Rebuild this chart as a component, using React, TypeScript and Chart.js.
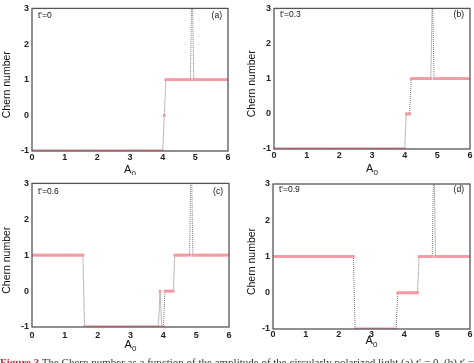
import React, { useEffect, useRef } from "react";
import { Chart, registerables } from "chart.js";

Chart.register(...registerables);

// A0 sampling grid
const A0 = [
  0, 0.05, 0.1, 0.15, 0.2, 0.25, 0.3, 0.35, 0.4, 0.45,
  0.5, 0.55, 0.6, 0.65, 0.7, 0.75, 0.8, 0.85, 0.9, 0.95,
  1, 1.05, 1.1, 1.15, 1.2, 1.25, 1.3, 1.35, 1.4, 1.45,
  1.5, 1.55, 1.6, 1.65, 1.7, 1.75, 1.8, 1.85, 1.9, 1.95,
  2, 2.05, 2.1, 2.15, 2.2, 2.25, 2.3, 2.35, 2.4, 2.45,
  2.5, 2.55, 2.6, 2.65, 2.7, 2.75, 2.8, 2.85, 2.9, 2.95,
  3, 3.05, 3.1, 3.15, 3.2, 3.25, 3.3, 3.35, 3.4, 3.45,
  3.5, 3.55, 3.6, 3.65, 3.7, 3.75, 3.8, 3.85, 3.9, 3.95,
  4, 4.05, 4.1, 4.15, 4.2, 4.25, 4.3, 4.35, 4.4, 4.45,
  4.5, 4.55, 4.6, 4.65, 4.7, 4.75, 4.8, 4.85, 4.9, 4.95,
  5, 5.05, 5.1, 5.15, 5.2, 5.25, 5.3, 5.35, 5.4, 5.45,
  5.5, 5.55, 5.6, 5.65, 5.7, 5.75, 5.8, 5.85, 5.9, 5.95,
  6,
];

// (a) t'=0
const CHERN_A = [
  -1, -1, -1, -1, -1, -1, -1, -1, -1, -1,
  -1, -1, -1, -1, -1, -1, -1, -1, -1, -1,
  -1, -1, -1, -1, -1, -1, -1, -1, -1, -1,
  -1, -1, -1, -1, -1, -1, -1, -1, -1, -1,
  -1, -1, -1, -1, -1, -1, -1, -1, -1, -1,
  -1, -1, -1, -1, -1, -1, -1, -1, -1, -1,
  -1, -1, -1, -1, -1, -1, -1, -1, -1, -1,
  -1, -1, -1, -1, -1, -1, -1, -1, -1, -1,
  -1, 0, 1, 1, 1, 1, 1, 1, 1, 1,
  1, 1, 1, 1, 1, 1, 1, 1, 4, 1,
  1, 1, 1, 1, 1, 1, 1, 1, 1, 1,
  1, 1, 1, 1, 1, 1, 1, 1, 1, 1,
  1,
];

// (b) t'=0.3
const CHERN_B = [
  -1, -1, -1, -1, -1, -1, -1, -1, -1, -1,
  -1, -1, -1, -1, -1, -1, -1, -1, -1, -1,
  -1, -1, -1, -1, -1, -1, -1, -1, -1, -1,
  -1, -1, -1, -1, -1, -1, -1, -1, -1, -1,
  -1, -1, -1, -1, -1, -1, -1, -1, -1, -1,
  -1, -1, -1, -1, -1, -1, -1, -1, -1, -1,
  -1, -1, -1, -1, -1, -1, -1, -1, -1, -1,
  -1, -1, -1, -1, -1, -1, -1, -1, -1, -1,
  -1, 0, 0, 0, 1, 1, 1, 1, 1, 1,
  1, 1, 1, 1, 1, 1, 1, 3.5, 1, 1,
  1, 1, 1, 1, 1, 1, 1, 1, 1, 1,
  1, 1, 1, 1, 1, 1, 1, 1, 1, 1,
  1,
];

// (c) t'=0.6
const CHERN_C = [
  1, 1, 1, 1, 1, 1, 1, 1, 1, 1,
  1, 1, 1, 1, 1, 1, 1, 1, 1, 1,
  1, 1, 1, 1, 1, 1, 1, 1, 1, 1,
  1, 1, -1, -1, -1, -1, -1, -1, -1, -1,
  -1, -1, -1, -1, -1, -1, -1, -1, -1, -1,
  -1, -1, -1, -1, -1, -1, -1, -1, -1, -1,
  -1, -1, -1, -1, -1, -1, -1, -1, -1, -1,
  -1, -1, -1, -1, -1, -1, -1, -1, 0, -1,
  -1, 0, 0, 0, 0, 0, 0, 1, 1, 1,
  1, 1, 1, 1, 1, 1, 1, 4, 1, 1,
  1, 1, 1, 1, 1, 1, 1, 1, 1, 1,
  1, 1, 1, 1, 1, 1, 1, 1, 1, 1,
  1,
];

// (d) t'=0.9
const CHERN_D = [
  1, 1, 1, 1, 1, 1, 1, 1, 1, 1,
  1, 1, 1, 1, 1, 1, 1, 1, 1, 1,
  1, 1, 1, 1, 1, 1, 1, 1, 1, 1,
  1, 1, 1, 1, 1, 1, 1, 1, 1, 1,
  1, 1, 1, 1, 1, 1, 1, 1, 1, 1,
  -1, -1, -1, -1, -1, -1, -1, -1, -1, -1,
  -1, -1, -1, -1, -1, -1, -1, -1, -1, -1,
  -1, -1, -1, -1, -1, -1, 0, 0, 0, 0,
  0, 0, 0, 0, 0, 0, 0, 0, 0, 1,
  1, 1, 1, 1, 1, 1, 1, 1, 4, 1,
  1, 1, 1, 1, 1, 1, 1, 1, 1, 1,
  1, 1, 1, 1, 1, 1, 1, 1, 1, 1,
  1,
];

const X_TICKS = [0, 1, 2, 3, 4, 5, 6];
const Y_TICKS = [-1, 0, 1, 2, 3];
const PARAM_LABELS = ["t'=0", "t'=0.3", "t'=0.6", "t'=0.9"];
const PANEL_TAGS = ["(a)", "(b)", "(c)", "(d)"];
const X_TITLE = "A";
const X_TITLE_SUB = "0";
const Y_TITLE = "Chern number";
const CAPTION_LEAD = "Figure 3";
const CAPTION_TEXT =
  " The Chern number as a function of the amplitude of the circularly polarized light (a) t\u2032 = 0, (b) t\u2032 = 0.3, (c) t\u2032 = 0.6, (d) t\u2032 = 0.9.";

const FONT = '"Liberation Sans", Arial, Helvetica, sans-serif';

const decorPlugin = {
  id: "panelDecor",
  afterDatasetsDraw(chart: any) {
    const { ctx, chartArea: ca } = chart;
    ctx.save();
    ctx.strokeStyle = "#555";
    ctx.lineWidth = 1.3;
    ctx.strokeRect(ca.left, ca.top, ca.right - ca.left, ca.bottom - ca.top);
    ctx.restore();
  },
  afterDraw(chart: any, _args: any, opts: any) {
    const { ctx, chartArea: ca } = chart;
    ctx.save();
    ctx.fillStyle = "#111";
    ctx.font = `8.5px ${FONT}`;
    ctx.textBaseline = "middle";
    ctx.textAlign = "left";
    ctx.fillText(opts.param, ca.left + 6, ca.top + opts.labelDy);
    ctx.textAlign = "right";
    ctx.fillText(opts.tag, ca.right - 6, ca.top + opts.labelDy);

    // x title A_0
    ctx.font = `11px ${FONT}`;
    const aw = ctx.measureText(X_TITLE).width;
    ctx.font = `8px ${FONT}`;
    const zw = ctx.measureText(X_TITLE_SUB).width;
    const cx = (ca.left + ca.right) / 2;
    const x0 = cx - (aw + zw) / 2;
    const by = ca.bottom + opts.xTitleDy;
    ctx.textAlign = "left";
    ctx.textBaseline = "alphabetic";
    ctx.font = `11px ${FONT}`;
    ctx.fillText(X_TITLE, x0, by);
    ctx.font = `8px ${FONT}`;
    ctx.fillText(X_TITLE_SUB, x0 + aw, by + 3);

    // y title
    ctx.font = `10.5px ${FONT}`;
    ctx.translate(opts.yTitleX, (ca.top + ca.bottom) / 2 + 5);
    ctx.rotate(-Math.PI / 2);
    ctx.textAlign = "center";
    ctx.textBaseline = "middle";
    ctx.fillText(Y_TITLE, 0, 0);
    ctx.restore();
  },
};

type PanelCfg = {
  values: number[];
  idx: number;
  left: number;
  top: number;
  w: number;
  h: number;
  yAxisW: number;
  xAxisH: number;
  padTop: number;
  padRight: number;
  tickPad: number;
  labelDy: number;
  xTitleDy: number;
  yTitleX: number;
};

function Panel({ cfg }: { cfg: PanelCfg }) {
  const ref = useRef<HTMLCanvasElement | null>(null);
  useEffect(() => {
    if (!ref.current) return;
    const pts = A0.map((x, i) => ({ x, y: cfg.values[i] }));
    const tickFont = { family: FONT, size: 9, weight: "bold" as const };
    const chart = new Chart(ref.current, {
      type: "scatter",
      data: {
        datasets: [
          {
            data: pts,
            showLine: false,
            pointStyle: "rect",
            pointRadius: 2,
            pointBackgroundColor: "#f59aa4",
            pointBorderWidth: 0,
            pointBorderColor: "#f59aa4",
          },
          {
            data: pts,
            showLine: true,
            borderColor: "#777",
            borderWidth: 1,
            borderDash: [1, 1],
            pointRadius: 0,
            fill: false,
          },
        ],
      },
      options: {
        responsive: false,
        animation: false,
        devicePixelRatio: 1,
        layout: {
          padding: { top: cfg.padTop, right: cfg.padRight, left: 0, bottom: 0 },
        },
        plugins: {
          legend: { display: false },
          tooltip: { enabled: false },
          panelDecor: {
            param: PARAM_LABELS[cfg.idx],
            tag: PANEL_TAGS[cfg.idx],
            labelDy: cfg.labelDy,
            xTitleDy: cfg.xTitleDy,
            yTitleX: cfg.yTitleX,
          },
        } as any,
        scales: {
          x: {
            type: "linear",
            min: X_TICKS[0],
            max: X_TICKS[X_TICKS.length - 1],
            afterBuildTicks: (s: any) => {
              s.ticks = X_TICKS.map((v) => ({ value: v }));
            },
            afterFit: (s: any) => {
              s.height = cfg.xAxisH;
            },
            grid: { display: false, drawTicks: false },
            border: { display: false },
            ticks: {
              font: tickFont,
              color: "#222",
              padding: cfg.tickPad,
              maxRotation: 0,
              autoSkip: false,
            },
          },
          y: {
            type: "linear",
            min: Y_TICKS[0],
            max: Y_TICKS[Y_TICKS.length - 1],
            afterBuildTicks: (s: any) => {
              s.ticks = Y_TICKS.map((v) => ({ value: v }));
            },
            afterFit: (s: any) => {
              s.width = cfg.yAxisW;
            },
            grid: { display: false, drawTicks: false },
            border: { display: false },
            ticks: {
              font: tickFont,
              color: "#222",
              padding: 3,
              autoSkip: false,
            },
          },
        },
      },
      plugins: [decorPlugin],
    });
    return () => chart.destroy();
  }, []);
  return (
    <canvas
      ref={ref}
      width={cfg.w}
      height={cfg.h}
      style={{ position: "absolute", left: cfg.left, top: cfg.top, width: cfg.w, height: cfg.h }}
    />
  );
}

const PANELS: PanelCfg[] = [
  { values: CHERN_A, idx: 0, left: 0, top: 0, w: 237, h: 175, yAxisW: 32, xAxisH: 24, padTop: 7, padRight: 9, tickPad: 1, labelDy: 7.5, xTitleDy: 22, yTitleX: 7 },
  { values: CHERN_B, idx: 1, left: 237, top: 0, w: 237, h: 175, yAxisW: 37, xAxisH: 26, padTop: 5, padRight: 3, tickPad: 1, labelDy: 6.5, xTitleDy: 23, yTitleX: 15 },
  { values: CHERN_C, idx: 2, left: 0, top: 175, w: 237, h: 188, yAxisW: 32, xAxisH: 36, padTop: 7, padRight: 8, tickPad: 3, labelDy: 8, xTitleDy: 21, yTitleX: 7 },
  { values: CHERN_D, idx: 3, left: 237, top: 175, w: 237, h: 188, yAxisW: 36, xAxisH: 34, padTop: 9, padRight: 4, tickPad: 0, labelDy: 6, xTitleDy: 14.5, yTitleX: 15 },
];

export default function App() {
  return (
    <div
      style={{
        position: "fixed",
        left: 0,
        top: 0,
        width: 474,
        height: 363,
        overflow: "hidden",
        background: "#fff",
      }}
    >
      {PANELS.map((p) => (
        <Panel key={p.idx} cfg={p} />
      ))}
      <div
        style={{
          position: "absolute",
          left: 0,
          top: 356,
          width: 474,
          whiteSpace: "nowrap",
          overflow: "hidden",
          fontFamily: '"Liberation Serif", "Times New Roman", serif',
          fontSize: 11,
          lineHeight: "13px",
          color: "#333",
        }}
      >
        <span style={{ color: "#b5333a", fontWeight: "bold" }}>{CAPTION_LEAD}</span>
        {CAPTION_TEXT}
      </div>
    </div>
  );
}
